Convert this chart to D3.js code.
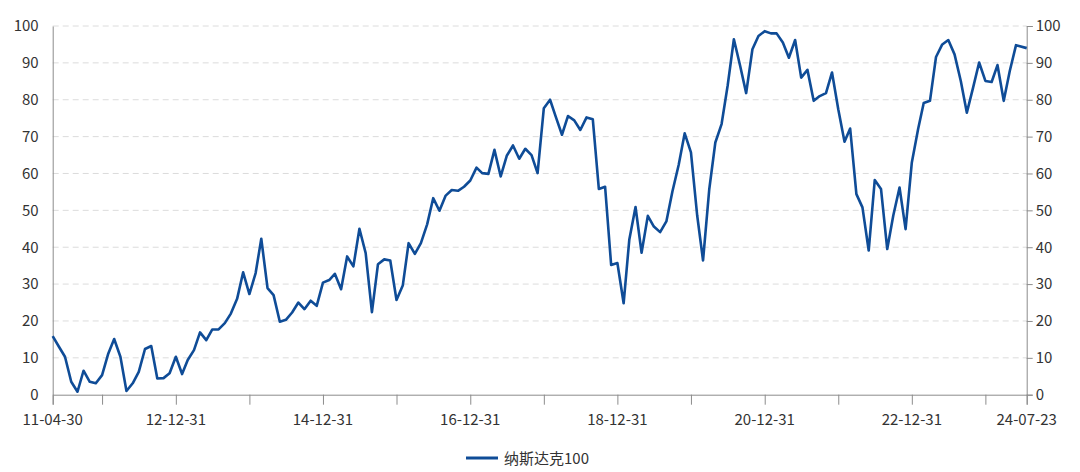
<!DOCTYPE html>
<html><head><meta charset="utf-8">
<script src="https://cdn.jsdelivr.net/npm/d3@7"></script>
<style>body{margin:0;background:#fff}text{font-family:"Noto Sans CJK SC","Noto Sans",sans-serif}</style>
</head><body><div class="chart"></div>
<script>
const values = [
  15.9,13,10.3,3.5,0.8,6.5,3.5,3.1,5.3,11.2,15.1,10.3,1,3.1,6.2,12.4,13.2,4.4,4.5,5.8,
  10.3,5.6,9.4,12.1,16.9,14.8,17.7,17.7,19.4,22,26,33.2,27.3,33,42.3,28.9,27,19.8,20.3,22.3,
  25,23.2,25.5,24.1,30.4,31.1,32.8,28.6,37.5,34.8,
  45,38.4,22.4,35.4,36.7,36.4,25.7,29.6,41.1,38.2,41.1,46.2,53.3,49.9,54,55.5,55.3,56.4,58.1,61.6,
  60.1,59.9,66.4,59.2,64.8,67.6,64,66.7,65,60.1,77.7,80,75.4,70.5,75.6,74.4,71.8,75.2,74.7,55.8,
  56.4,35.2,35.7,24.8,42,50.9,38.5,48.5,45.6,44.1,47,55.1,62.3,70.9,
  65.7,48.6,36.4,55.8,68.4,73.4,83.8,96.4,89.2,81.8,93.7,97.3,98.6,98,98,95.5,91.4,96.2,86,88.1,
  79.7,81,81.8,87.4,77.4,68.6,72.2,54.4,50.8,39.1,58.2,55.8,39.5,48.6,56.2,44.9,63,72,79.1,79.7,
  91.6,95,96.2,92.3,85.1,76.5,83.3,90.1,85.1,84.8,89.4,79.7,87.8,94.8,94
];
const startDate = "2011-04-30";
const endDate = "2024-07-23";
const labelDates = ["2011-04-30","2012-12-31","2014-12-31","2016-12-31","2018-12-31","2020-12-31","2022-12-31","2024-07-23"];
const yTicks = [0,10,20,30,40,50,60,70,80,90,100];
const seriesName = "纳斯达克100";

const width = 1080, height = 472;
const margin = {left: 52.7, right: 53.3, top: 26, bottom: 77.3};
const parse = d3.timeParse("%Y-%m-%d");
const fmt = d3.timeFormat("%y-%m-%d");

// month-end dates, last point on the end date
const dates = d3.range(values.length).map(i => {
  const d = d3.timeMonth.offset(new Date(2011, 4, 1), i);
  return d3.timeDay.offset(d, -1);
});
dates[dates.length - 1] = parse(endDate);
const data = values.map((v, i) => ({date: dates[i], v}));

const x = d3.scaleTime().domain([parse(startDate), parse(endDate)]).range([margin.left, width - margin.right]);
const y = d3.scaleLinear().domain([0, 100]).range([height - margin.bottom, margin.top]);

const svg = d3.select(".chart").append("svg").attr("width", width).attr("height", height);

svg.append("g").selectAll("line").data(yTicks.slice(1)).enter().append("line")
  .attr("x1", margin.left).attr("x2", width - margin.right)
  .attr("y1", d => y(d)).attr("y2", d => y(d))
  .attr("stroke", "#dcdcdc").attr("stroke-dasharray", "6,4");

const axisStyle = g => {
  g.select(".domain").attr("stroke", "#8c8c8c");
  g.selectAll(".tick line").attr("stroke", "#8c8c8c");
  g.selectAll("text").attr("fill", "#333").attr("font-size", 15);
};

svg.append("g").attr("transform", `translate(${margin.left},0)`)
  .call(d3.axisLeft(y).tickValues(yTicks).tickSize(0).tickPadding(14))
  .call(axisStyle);
svg.append("g").attr("transform", `translate(${width - margin.right},0)`)
  .call(d3.axisRight(y).tickValues(yTicks).tickSize(6).tickPadding(3))
  .call(axisStyle);

const yearTicks = [parse(startDate)].concat(d3.range(2011, 2024).map(yr => new Date(yr, 11, 31)), [parse(endDate)]);
svg.append("g").attr("transform", `translate(0,${height - margin.bottom})`)
  .call(d3.axisBottom(x).tickValues(yearTicks).tickSize(10).tickFormat(""))
  .call(axisStyle);
svg.append("g").selectAll("text").data(labelDates.map(parse)).enter().append("text")
  .attr("x", d => x(d)).attr("y", height - margin.bottom + 30)
  .attr("text-anchor", "middle").attr("font-size", 15).attr("fill", "#333")
  .text(d => fmt(d));

svg.append("path").datum(data)
  .attr("fill", "none").attr("stroke", "#0f4c97").attr("stroke-width", 2.6)
  .attr("stroke-linejoin", "round")
  .attr("d", d3.line().x(d => x(d.date)).y(d => y(d.v)));

const lg = svg.append("g").attr("transform", "translate(466,458)");
lg.append("line").attr("x1", 0).attr("x2", 32).attr("stroke", "#0f4c97").attr("stroke-width", 3);
lg.append("text").attr("x", 38).attr("y", 6).attr("font-size", 15).attr("fill", "#333").text(seriesName);
</script></body></html>
